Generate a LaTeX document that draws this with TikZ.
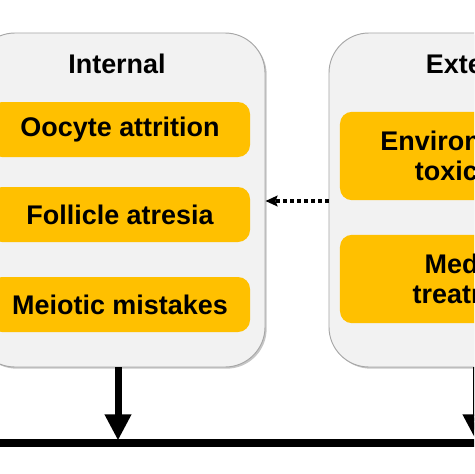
\documentclass[tikz,border=0pt]{standalone}
\usepackage{fontspec}
\setmainfont{Liberation Sans}
\usetikzlibrary{arrows.meta,shadows}
\definecolor{panelgray}{HTML}{F2F2F2}
\definecolor{edgegray}{HTML}{A6A6A6}
\definecolor{factorgold}{HTML}{FFC000}
\begin{document}
\begin{tikzpicture}[x=0.03cm,y=-0.03cm,
  font=\bfseries\fontsize{23}{25.6}\selectfont,
  panel/.style={rounded corners=1.2cm,fill=panelgray,draw=edgegray,line width=0.8pt,
    minimum width=8.7cm,minimum height=10.02cm,inner sep=0pt,
    drop shadow={shadow xshift=0.05cm,shadow yshift=-0.05cm,opacity=0.45}},
  factor/.style={rounded corners=0.36cm,fill=factorgold,inner sep=0pt,align=center},
  small/.style={factor,minimum width=7.8cm,minimum height=1.65cm},
  large/.style={factor,minimum width=8.04cm,minimum height=2.65cm},
  flow/.style={line width=0.21cm,-{Triangle[width=0.75cm,length=0.78cm]}},
  link/.style={line width=0.11cm,dash pattern=on 0.12cm off 0.09cm,
    -{Stealth[width=0.32cm,length=0.36cm,inset=0.06cm]}}]
  \useasboundingbox (0,0) rectangle (474,474);
  \clip (0,0) rectangle (474,474);

  \coordinate (baseL) at (-20,443);
  \coordinate (baseR) at (500,443);

  % 两个分组框
  \node[panel] (internal) at (120,200) {};
  \node[panel] (external) at (474,200) {};

  % 标题
  \node (intTitle) at (117,64) {Internal};
  \node (extTitle) at (479,64) {External};

  % 内部因素
  \node[small] (oocyte) at (120,129.5) {Oocyte attrition};
  \node[small] (follicle) at (120,214.5) {Follicle atresia};
  \node[small] (meiotic) at (120,304.5) {Meiotic mistakes};

  % 外部因素
  \node[large] (toxicants) at (474,156) {Environmental\\toxicants};
  \node[large] (treatment) at (474,279) {Medical\\treatment};

  % 箭头与底线
  \draw[link] (external.west |- 0,201) -- (internal.east |- 0,201);
  \draw[flow] (internal.south) ++(-2,0) -- ++(0,73);
  \draw[flow] (external.south) ++(2,0) -- ++(0,73);
  \draw[line width=0.24cm] (baseL) -- (baseR);
\end{tikzpicture}
\end{document}
